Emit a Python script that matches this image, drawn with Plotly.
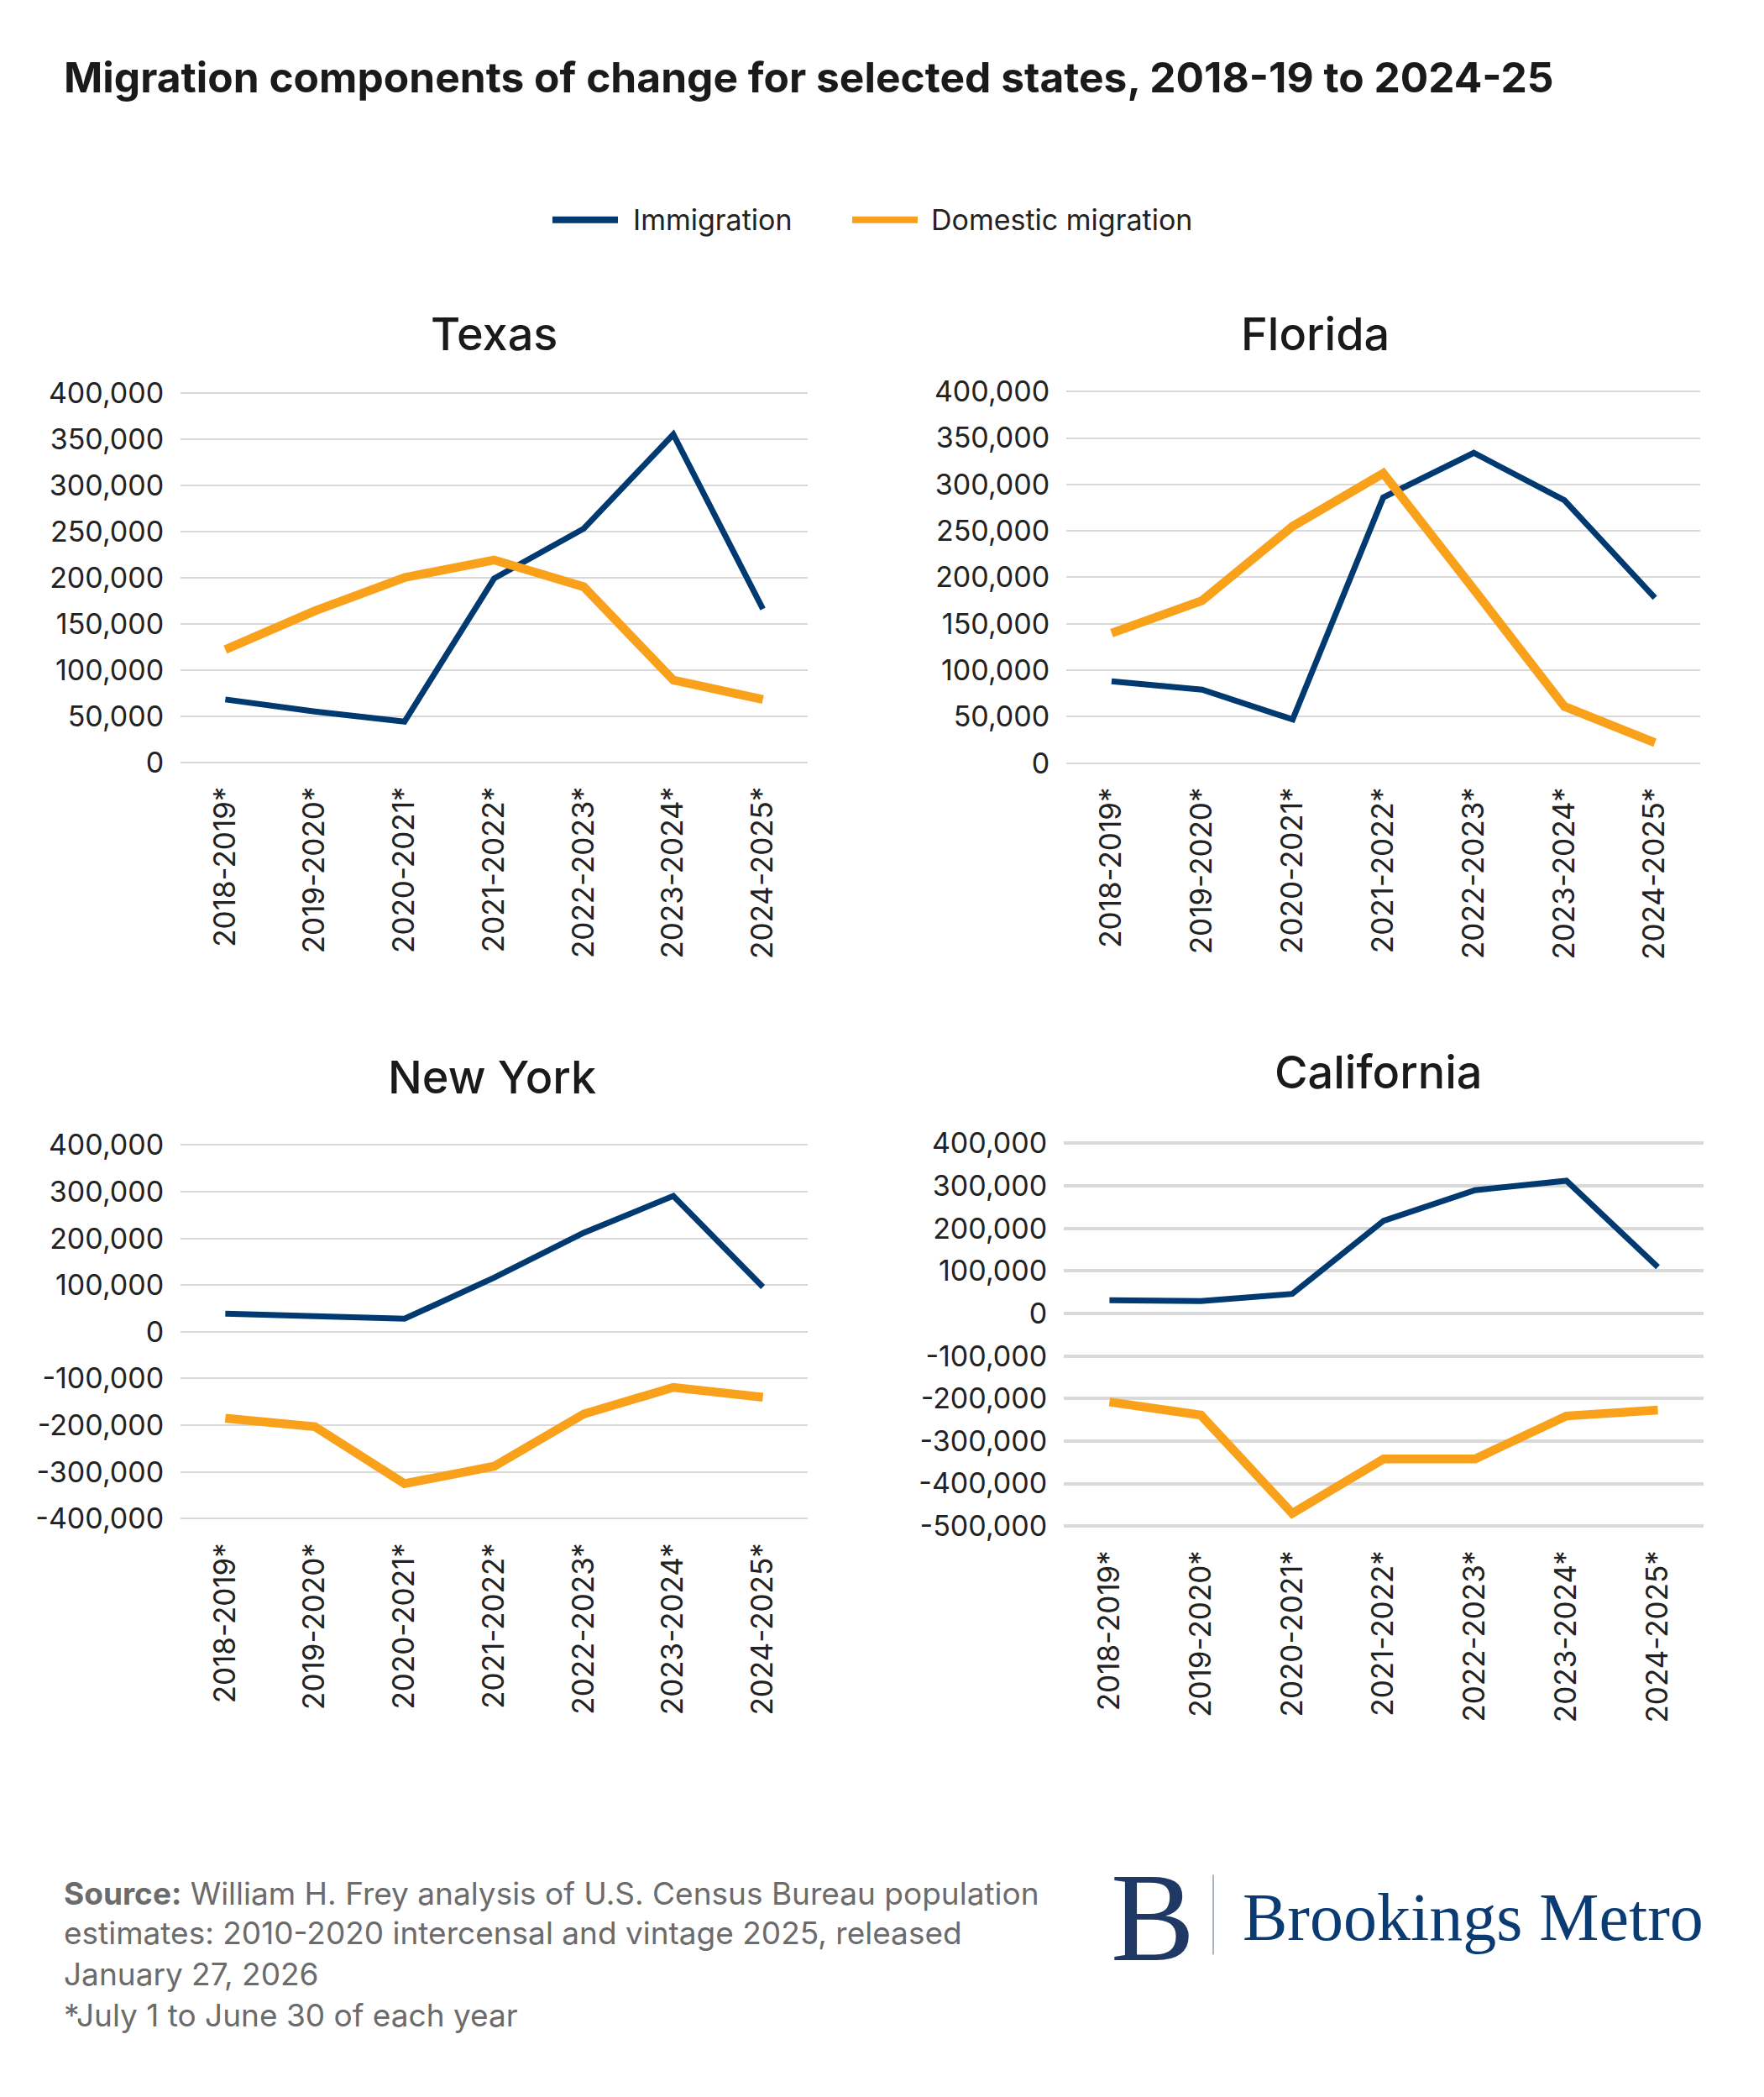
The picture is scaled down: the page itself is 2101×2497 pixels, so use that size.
import plotly.graph_objects as go

W, H = 2101, 2497

categories = ["2018-2019*", "2019-2020*", "2020-2021*", "2021-2022*",
              "2022-2023*", "2023-2024*", "2024-2025*"]

tx_imm = [68000, 55000, 44000, 199000, 253000, 355000, 166000]
tx_dom = [122000, 164000, 200000, 219000, 190000, 89000, 68000]
fl_imm = [88000, 79000, 47000, 286000, 334000, 283000, 178000]
fl_dom = [140000, 175000, 255000, 312000, 187000, 61000, 22000]
ny_imm = [39000, 33000, 28000, 116000, 212000, 291000, 96000]
ny_dom = [-185000, -203000, -325000, -288000, -176000, -119000, -140000]
ca_imm = [31000, 29000, 46000, 218000, 290000, 312000, 109000]
ca_dom = [-208000, -239000, -470000, -342000, -342000, -241000, -227000]

pos_ticks = [0, 50000, 100000, 150000, 200000, 250000, 300000, 350000, 400000]
ny_ticks = [-400000, -300000, -200000, -100000, 0, 100000, 200000, 300000, 400000]
ca_ticks = [-500000, -400000, -300000, -200000, -100000, 0, 100000, 200000, 300000, 400000]

series_names = ["Immigration", "Domestic migration"]
NAVY = "#003a70"
ORANGE = "#f9a11b"
FONT = "Inter"
TXT = "#222222"


def fmt(v):
    return f"{v:,}"


fig = go.Figure()

panels = [
    # name, imm, dom, ticks, x0, x1, ytop_px, ytop_val, ybot_px, ybot_val, title xy, gridwidth
    ("Texas", tx_imm, tx_dom, pos_ticks, 215, 962, 460, 400000, 904, 0, (588, 389), 2),
    ("Florida", fl_imm, fl_dom, pos_ticks, 1270, 2025, 458.5, 400000, 905, 0, (1566, 389), 2),
    ("New York", ny_imm, ny_dom, ny_ticks, 215, 962, 1364, 400000, 1813, -400000, (586, 1282), 2),
    ("California", ca_imm, ca_dom, ca_ticks, 1267, 2029, 1362, 400000, 1822, -500000, (1641, 1276), 4),
]

annotations = []
shapes = []

for i, (name, imm, dom, ticks, x0, x1, ytp, ytv, ybp, ybv, tpos, gw) in enumerate(panels):
    n = "" if i == 0 else str(i + 1)
    k = (ybp - ytp) / (ytv - ybv)
    pad_val = 0.02 * (ytv - ybv)
    pad_px = pad_val * k
    ydom = [1 - (ybp + pad_px) / H, 1 - (ytp - pad_px) / H]
    xdom = [x0 / W, x1 / W]
    fig.add_trace(go.Scatter(x=categories, y=imm, mode="lines", name=series_names[0],
                             line=dict(color=NAVY, width=7), xaxis="x" + n, yaxis="y" + n,
                             showlegend=False))
    fig.add_trace(go.Scatter(x=categories, y=dom, mode="lines", name=series_names[1],
                             line=dict(color=ORANGE, width=10.5), xaxis="x" + n, yaxis="y" + n,
                             showlegend=False))
    fig.layout["xaxis" + n] = dict(
        domain=xdom, anchor="y" + n, type="category", range=[-0.5, 6.5],
        showgrid=False, showline=False, zeroline=False,
        tickangle=-90, ticks="outside", ticklen=max(1, 14 - pad_px), tickcolor="rgba(0,0,0,0)",
        tickfont=dict(family=FONT, size=35, color=TXT),
    )
    fig.layout["yaxis" + n] = dict(
        domain=ydom, anchor="x" + n, range=[ybv - pad_val, ytv + pad_val],
        tickmode="array", tickvals=ticks, ticktext=[fmt(v) for v in ticks],
        showgrid=True, gridcolor="#d9d9d9", gridwidth=gw, zeroline=False, showline=False,
        ticks="outside", ticklen=12, tickcolor="rgba(0,0,0,0)",
        tickfont=dict(family=FONT, size=34, color=TXT),
    )
    annotations.append(dict(text=name, x=tpos[0] / W, y=1 - tpos[1] / H, xref="paper", yref="paper",
                            xanchor="center", yanchor="middle", showarrow=False,
                            font=dict(family=FONT, size=54, color="#1a1a1a", weight=500)))

# Title
annotations.append(dict(text="<b>Migration components of change for selected states, 2018-19 to 2024-25</b>",
                        x=74 / W, y=1 - 81 / H, xref="paper", yref="paper", xanchor="left",
                        yanchor="middle", showarrow=False,
                        font=dict(family=FONT, size=49.7, color="#1a1a1a")))

# Legend (manual)
leg_y = 1 - 252 / H
for (sx0, sx1, tx, col, lbl) in [(658, 736, 752, NAVY, series_names[0]),
                                  (1015, 1093, 1107, ORANGE, series_names[1])]:
    shapes.append(dict(type="line", xref="paper", yref="paper", x0=sx0 / W, x1=sx1 / W,
                       y0=leg_y, y1=leg_y, line=dict(color=col, width=8)))
    annotations.append(dict(text=lbl, x=tx / W, y=leg_y, xref="paper", yref="paper",
                            xanchor="left", yanchor="middle", showarrow=False,
                            font=dict(family=FONT, size=34, color=TXT)))

# Footer
foot_lines = [
    "<b>Source:</b> William H. Frey analysis of U.S. Census Bureau population",
    "estimates: 2010-2020 intercensal and vintage 2025, released",
    "January 27, 2026",
    "*July 1 to June 30 of each year",
]
for yy, t in zip([2263, 2311, 2360, 2410], foot_lines):
    annotations.append(dict(text=t, x=74 / W, y=1 - yy / H, xref="paper", yref="paper",
                            xanchor="left", yanchor="middle", showarrow=False,
                            font=dict(family=FONT, size=37, color="#6b6b6b")))

# Logo
annotations.append(dict(text="B", x=1373 / W, y=1 - 2292 / H, xref="paper", yref="paper",
                        xanchor="center", yanchor="middle", showarrow=False,
                        font=dict(family="Liberation Serif", size=150, color="#1f3864")))
shapes.append(dict(type="line", xref="paper", yref="paper", x0=1445 / W, x1=1445 / W,
                   y0=1 - 2241 / H, y1=1 - 2337 / H, line=dict(color="#aab4c8", width=2)))
annotations.append(dict(text="Brookings Metro", x=1478 / W, y=1 - 2292 / H, xref="paper", yref="paper",
                        xanchor="left", yanchor="middle", showarrow=False,
                        font=dict(family="Liberation Serif", size=80, color="#0b3b73")))

fig.update_layout(
    width=W, height=H, margin=dict(l=0, r=0, t=0, b=0),
    paper_bgcolor="white", plot_bgcolor="white",
    annotations=annotations, shapes=shapes, showlegend=False,
    font=dict(family=FONT, color=TXT),
)

fig.write_html("out.html")
